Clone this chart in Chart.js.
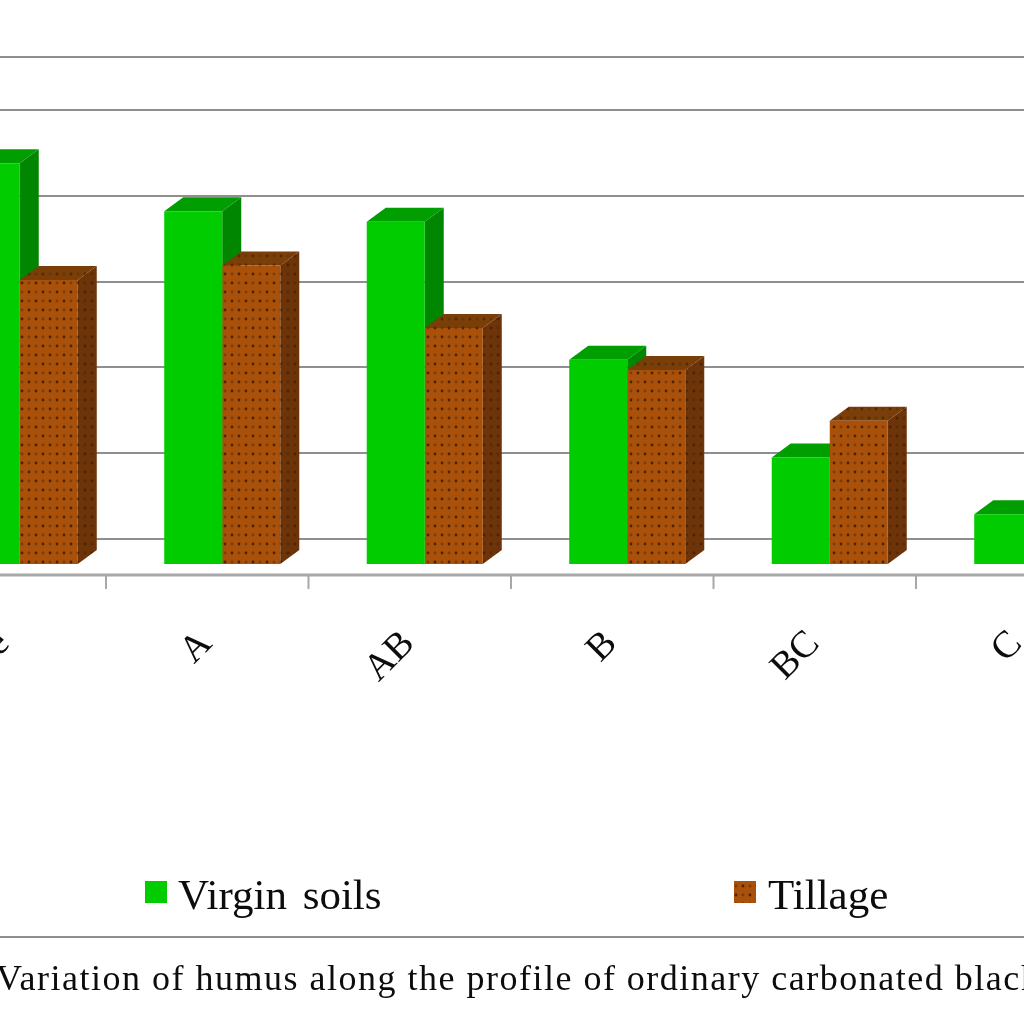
<!DOCTYPE html>
<html>
<head>
<meta charset="utf-8">
<style>
  html, body { margin: 0; padding: 0; background: #fff; width: 1024px; height: 1024px; overflow: hidden; }
  #wrap { position: absolute; left: -100px; top: 0; width: 1234px; height: 1024px; }
  #caption { position: absolute; left: -4px; top: 957px; white-space: nowrap;
    font: 36px "Liberation Serif", serif; letter-spacing: 1.5px; color: #0c0c0c; }
</style>
<script src="https://cdn.jsdelivr.net/npm/chart.js@4"></script>
</head>
<body>
<div id="wrap"><canvas id="chart" width="1234" height="1024"></canvas></div>
<div id="caption">Variation of humus along the profile of ordinary carbonated black earth</div>
<script>
const horizons = ['Ae', 'A', 'AB', 'B', 'BC', 'C'];
const virginSoils = [4.67, 4.11, 3.99, 2.38, 1.24, 0.58];
const tillage = [3.31, 3.48, 2.75, 2.26, 1.67, 0.5];

// Pseudo-3D projection: how far the back of a column sits from its front face.
const DEPTH_X = 19, DEPTH_Y = 14;
// The wall gridlines sit behind the columns, the floor edge in front of them.
const WALL_SHIFT = 25, FLOOR_DROP = 11, AXIS_SHIFT_X = 15;
// Canvas offset of the wrapper, and the legend entries' page positions.
const PAGE_LEFT = 100;
const LEGEND_BOX_X = [145, 734];
const LEGEND_TEXT_X = [178, 768];

function dotted(base, dot) {
  const c = document.createElement('canvas');
  c.width = 14; c.height = 18;
  const g = c.getContext('2d');
  g.fillStyle = base;
  g.fillRect(0, 0, 14, 18);
  g.fillStyle = dot;
  [[3, 4], [10, 13]].forEach(([x, y]) => {
    g.beginPath();
    g.arc(x, y, 1.4, 0, Math.PI * 2);
    g.fill();
  });
  g.globalAlpha = 0.45;
  [[10, 4], [3, 13]].forEach(([x, y]) => {
    g.beginPath();
    g.arc(x, y, 1.4, 0, Math.PI * 2);
    g.fill();
  });
  return g.createPattern(c, 'repeat');
}

const faces = [
  { top: '#009e00', side: '#008600' },
  { top: dotted('#7a3e08', '#552804'), side: dotted('#6c3408', '#4a2204') }
];

const wallAndFrame = {
  id: 'wallAndFrame',
  beforeDatasetsDraw(chart) {
    const { ctx, scales: { x, y }, width } = chart;
    ctx.save();
    ctx.strokeStyle = '#8f8f8f';
    ctx.lineWidth = 2;
    const hline = (py) => { ctx.beginPath(); ctx.moveTo(0, py); ctx.lineTo(width, py); ctx.stroke(); };
    y.ticks.forEach((t) => hline(Math.round(y.getPixelForValue(t.value)) - WALL_SHIFT));
    // chart frame above the plot and below the legend
    hline(57);
    hline(937);
    // category axis in front of the columns, with ticks between categories
    const floorY = y.getPixelForValue(0) + FLOOR_DROP;
    ctx.strokeStyle = '#a8a8a8';
    ctx.lineWidth = 3;
    hline(floorY);
    ctx.lineWidth = 2;
    horizons.forEach((_, i) => {
      const tx = x.getPixelForValue(i) - x.width / horizons.length / 2 - AXIS_SHIFT_X;
      ctx.beginPath(); ctx.moveTo(tx, floorY); ctx.lineTo(tx, floorY + 14); ctx.stroke();
    });
    // side and top faces, left series first so the right series overlaps it
    chart.data.datasets.forEach((_, di) => {
      const look = faces[di];
      chart.getDatasetMeta(di).data.forEach((bar) => {
        const l = bar.x - bar.width / 2, r = bar.x + bar.width / 2;
        const t = bar.y, b = bar.base;
        ctx.fillStyle = look.side;
        ctx.beginPath();
        ctx.moveTo(r, t); ctx.lineTo(r + DEPTH_X, t - DEPTH_Y);
        ctx.lineTo(r + DEPTH_X, b - DEPTH_Y); ctx.lineTo(r, b);
        ctx.closePath(); ctx.fill();
        ctx.fillStyle = look.top;
        ctx.beginPath();
        ctx.moveTo(l, t); ctx.lineTo(l + DEPTH_X, t - DEPTH_Y);
        ctx.lineTo(r + DEPTH_X, t - DEPTH_Y); ctx.lineTo(r, t);
        ctx.closePath(); ctx.fill();
      });
    });
    ctx.restore();
  },
  afterDraw(chart) {
    // legend laid out by hand: wide gap between the entries, tight box-to-text gap
    const { ctx } = chart;
    ctx.save();
    ctx.font = '43px "Liberation Serif"';
    ctx.wordSpacing = '5px';
    ctx.textBaseline = 'alphabetic';
    chart.data.datasets.forEach((ds, i) => {
      ctx.fillStyle = ds.backgroundColor;
      ctx.fillRect(LEGEND_BOX_X[i] + PAGE_LEFT, 881, 22, 22);
      ctx.fillStyle = '#0c0c0c';
      ctx.fillText(ds.label, LEGEND_TEXT_X[i] + PAGE_LEFT, 909);
    });
    ctx.restore();
  }
};

new Chart(document.getElementById('chart'), {
  type: 'bar',
  data: {
    labels: horizons,
    datasets: [
      { label: 'Virgin soils', data: virginSoils, backgroundColor: '#00cc00',
        categoryPercentage: 0.573, barPercentage: 1 },
      { label: 'Tillage', data: tillage, backgroundColor: dotted('#a9510a', '#4a2204'),
        categoryPercentage: 0.573, barPercentage: 1 }
    ]
  },
  plugins: [wallAndFrame],
  options: {
    responsive: false,
    animation: false,
    layout: { padding: { left: 18.5, right: 0.5, top: 135, bottom: 0 } },
    scales: {
      x: {
        grid: { display: false },
        border: { display: false },
        afterFit(s) { s.height = 460; },
        ticks: {
          autoSkip: false, minRotation: 45, maxRotation: 45, padding: 50, labelOffset: -16,
          color: '#0c0c0c', font: { family: '"Liberation Serif"', size: 38 }
        }
      },
      y: {
        min: 0, max: 5,
        afterFit(s) { s.width = 0; },
        grid: { display: false },
        border: { display: false },
        ticks: { display: false, stepSize: 1 }
      }
    },
    plugins: {
      title: { display: false },
      tooltip: { enabled: false },
      legend: { display: false }
    }
  }
});
</script>
</body>
</html>
